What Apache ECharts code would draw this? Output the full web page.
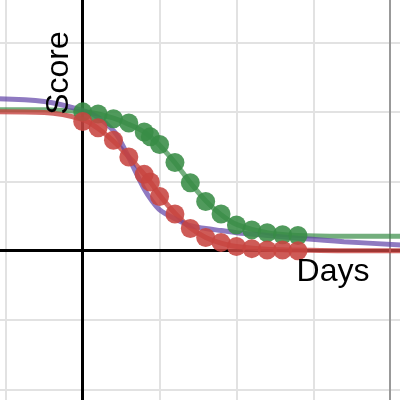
<!DOCTYPE html>
<html>
<head>
<meta charset="utf-8">
<script src="https://cdn.jsdelivr.net/npm/echarts@6/dist/echarts.min.js"></script>
<style>
html,body{margin:0;padding:0;background:#fff;width:400px;height:400px;overflow:hidden;position:relative;}
#chart{position:absolute;left:-71px;top:-27px;width:538px;height:486px;}
</style>
</head>
<body>
<div id="chart"></div>
<script>
// Observed data points
const days = [0, 1, 2, 3, 4, 4.4, 5, 6, 7, 8, 9, 10, 11, 12, 13, 14];
const greenScore = [2.00, 1.97, 1.90, 1.84, 1.71, 1.64, 1.53, 1.27, 0.98, 0.71, 0.53, 0.37, 0.30, 0.26, 0.23, 0.22];
const redScore = [1.86, 1.77, 1.59, 1.35, 1.10, 0.99, 0.78, 0.53, 0.32, 0.19, 0.12, 0.06, 0.03, 0.01, 0.01, 0.00];

// Fitted curves
const curveX = [-5.5, -2.5, 0, 1, 2, 2.5, 3, 3.5, 4, 4.5, 5, 6, 7, 8, 9, 10, 12, 14, 17, 21];
const purpleFit = [2.19, 2.15, 2.02, 1.92, 1.73, 1.56, 1.34, 1.11, 0.89, 0.72, 0.59, 0.46, 0.36, 0.32, 0.29, 0.26, 0.22, 0.18, 0.13, 0.08];
const greenFit = [2.03, 2.03, 2.00, 1.97, 1.91, 1.87, 1.82, 1.77, 1.71, 1.62, 1.52, 1.27, 0.98, 0.72, 0.52, 0.38, 0.26, 0.22, 0.21, 0.21];
const redFit = [2.00, 1.99, 1.89, 1.76, 1.58, 1.47, 1.35, 1.23, 1.10, 0.96, 0.80, 0.54, 0.33, 0.19, 0.11, 0.06, 0.02, 0.01, 0.00, 0.00];

// Axis ranges / labels
const xRange = [-10, 25];
const yRange = [-3, 4];
const xStep = 5;
const yStep = 1;
const xMajorLine = 20;
const xLabel = 'Days';
const yLabel = 'Score';

const zip = (a, b) => a.map((v, i) => [v, b[i]]);

// chart element is offset by (-71, -27) from the visible window
const offX = 71, offY = 27;

const chart = echarts.init(document.getElementById('chart'), null, {renderer: 'canvas'});
const gridStyle = {show: true, lineStyle: {color: '#e2e2e2', width: 2}};
const axisLineStyle = {show: true, onZero: true, lineStyle: {color: '#000', width: 3}};
const fontFamily = 'Liberation Sans, Arial, sans-serif';

chart.setOption({
  animation: false,
  backgroundColor: '#fff',
  grid: {left: 0, right: 0, top: 0, bottom: 0},
  xAxis: {
    type: 'value', min: xRange[0], max: xRange[1], interval: xStep,
    axisLine: axisLineStyle, axisTick: {show: false}, axisLabel: {show: false},
    splitLine: gridStyle
  },
  yAxis: {
    type: 'value', min: yRange[0], max: yRange[1], interval: yStep,
    axisLine: axisLineStyle, axisTick: {show: false}, axisLabel: {show: false},
    splitLine: gridStyle
  },
  series: [
    {
      type: 'line', data: zip(curveX, greenFit), smooth: 0.35, showSymbol: false,
      lineStyle: {color: '#388c46', width: 5, opacity: 0.7}, z: 2,
      markLine: {
        silent: true, symbol: 'none', z: 1, label: {show: false},
        lineStyle: {color: '#999', width: 2, type: 'solid'},
        data: [{xAxis: xMajorLine}]
      }
    },
    {
      type: 'line', data: zip(curveX, redFit), smooth: 0.35, showSymbol: false,
      lineStyle: {color: '#c74440', width: 5, opacity: 0.8}, z: 2
    },
    {
      type: 'line', data: zip(curveX, purpleFit), smooth: 0.35, showSymbol: false,
      lineStyle: {color: '#6042a6', width: 5, opacity: 0.7}, z: 2
    },
    {
      type: 'scatter', data: zip(days, greenScore), symbolSize: 19,
      itemStyle: {color: '#388c46', opacity: 0.88}, z: 3
    },
    {
      type: 'scatter', data: zip(days, redScore), symbolSize: 19,
      itemStyle: {color: '#c74440', opacity: 0.88}, z: 4
    }
  ],
  graphic: [
    {
      type: 'text', x: 59 + offX, y: 73 + offY, rotation: Math.PI / 2, z: 100,
      style: {text: yLabel, fill: '#000', font: '32px ' + fontFamily, align: 'center', verticalAlign: 'middle'}
    },
    {
      type: 'text', x: 333 + offX, y: 272 + offY, z: 100,
      style: {text: xLabel, fill: '#000', font: '32px ' + fontFamily, align: 'center', verticalAlign: 'middle'}
    }
  ]
});
</script>
</body>
</html>
